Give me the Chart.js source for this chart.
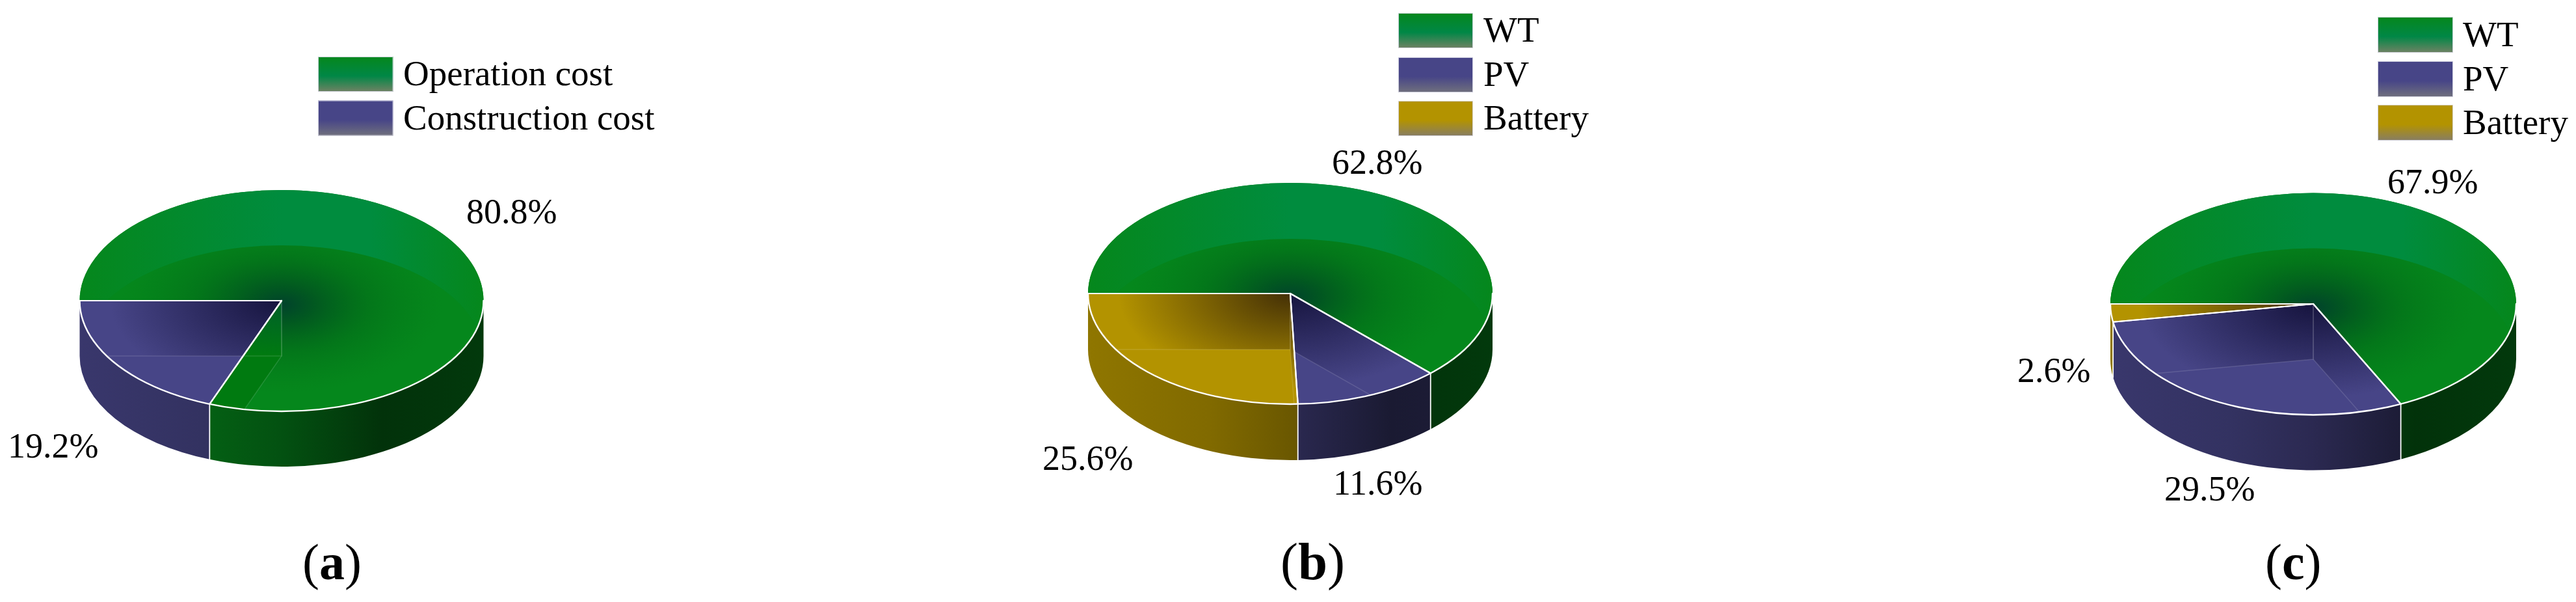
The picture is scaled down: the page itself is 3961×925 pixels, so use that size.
<!DOCTYPE html>
<html><head><meta charset="utf-8">
<style>html,body{margin:0;padding:0;background:#fff;overflow:hidden;width:3961px;height:925px}
canvas{position:absolute;top:0}</style>
<script src="https://cdn.jsdelivr.net/npm/chart.js@4"></script></head>
<body>
<canvas id="ca" width="1320" height="925" style="left:0"></canvas>
<canvas id="cb" width="1320" height="925" style="left:1320px"></canvas>
<canvas id="cc" width="1321" height="925" style="left:2640px"></canvas>
<script>
// ---- data ----
const categoriesA = ['Operation cost', 'Construction cost'];
const valuesA = [80.8, 19.2];
const categoriesB = ['WT', 'PV', 'Battery'];
const valuesB = [62.8, 11.6, 25.6];
const categoriesC = ['WT', 'PV', 'Battery'];
const valuesC = [67.9, 29.5, 2.6];
const captionLetters = ['a', 'b', 'c'];

// ---- styles ----
const GREEN = {base:[5,135,28], band:[0,140,62], apex:[0,95,42], rimW:[0,122,16], legendMid:[0,135,70], legendEnd:[112,130,100], floorShade:true};
const PURPLE = {base:[71,69,135], band:[71,69,135], apex:[22,20,62], rimW:[71,69,135], legendMid:[71,69,135], legendEnd:[112,112,125], floorShade:false};
const GOLD = {base:[179,147,0], band:[179,147,0], apex:[68,48,6], rimW:[179,147,0], legendMid:[179,147,0], legendEnd:[135,125,100], floorShade:false};
const rgb = (c, a=1) => `rgba(${c[0]},${c[1]},${c[2]},${a})`;
const mul = (c, k) => c.map(v => Math.round(v * k));
const WALL_STOPS = [[0,.80],[.3,.72],[.5,.60],[.75,.37],[1,.42]];
const SERIF = '"Liberation Serif", "Times New Roman", serif';
const FS = 55, PCT_FS = 54;

const panels = [
 {id:'ca', ox:0, labels:categoriesA, values:valuesA, styles:[GREEN,PURPLE], cx:433, cy:462, rx:310.5, ry:170, d:85,
  swX:489, swW:115.5, swH:54, swY:[87,154.5], txtX:620, txtDY:44,
  pct:[[717,343],[12,703]], cap:[465,890,78]},
 {id:'cb', ox:1320, labels:categoriesB, values:valuesB, styles:[GREEN,PURPLE,GOLD], cx:1984, cy:451, rx:311, ry:170, d:86,
  swX:2150, swW:115, swH:54, swY:[20,88,155], txtX:2281, txtDY:44,
  pct:[[2048,267],[2050,760],[1603,722]], cap:[1969,890,81]},
 {id:'cc', ox:2640, labels:categoriesC, values:valuesC, styles:[GREEN,PURPLE,GOLD], cx:3557, cy:467, rx:312, ry:170.5, d:85,
  swX:3656, swW:116, swH:55, swY:[26,94,161], txtX:3787, txtDY:45,
  pct:[[3671,297],[3328,769],[3102,587]], cap:[3483,890,78]}
];

const pie3d = {
 id:'pie3d',
 beforeDatasetsDraw(chart, args, o){
  const ctx = chart.ctx, a = chart.getDatasetMeta(0).data[0];
  ctx.save();
  ctx.translate(o.cx - o.ox, o.cy); ctx.scale(1, o.ry / a.outerRadius); ctx.translate(-a.x, -a.y);
 },
 afterDatasetsDraw(chart, args, o){
  const ctx = chart.ctx; ctx.restore();
  const arcs = chart.getDatasetMeta(0).data;
  const {cy, rx, ry, d, styles} = o, cx = o.cx - o.ox;
  const px = (ang, dy=0) => [cx + rx*Math.cos(ang), cy + ry*Math.sin(ang) + dy];
  const sector = (s, e, dy=0) => { ctx.beginPath(); ctx.moveTo(cx, cy+dy); ctx.ellipse(cx, cy+dy, rx, ry, 0, s, e); ctx.closePath(); };
  const radialFill = (y0, r, stops) => {
    ctx.save(); ctx.translate(cx, y0); ctx.scale(1, ry/rx);
    const g = ctx.createRadialGradient(0,0,0,0,0,r);
    stops.forEach(s => g.addColorStop(s[0], s[1]));
    ctx.fillStyle = g; ctx.fill(); ctx.restore();
  };
  arcs.forEach((a, i) => {
    const st = styles[i], s = a.startAngle, e = a.endAngle;
    // outer wall, front half only
    const ws = Math.max(s, 0), we = Math.min(e, Math.PI);
    if (we > ws) {
      ctx.beginPath();
      ctx.ellipse(cx, cy, rx, ry, 0, ws, we);
      ctx.ellipse(cx, cy+d, rx, ry, 0, we, ws, true);
      ctx.closePath();
      const g = ctx.createLinearGradient(cx-rx, 0, cx+rx, 0);
      WALL_STOPS.forEach(t => g.addColorStop(t[0], rgb(mul(st.base, t[1]))));
      ctx.fillStyle = g; ctx.fill();
    }
    // top face
    ctx.save();
    sector(s, e); ctx.clip();
    // back band
    const g = ctx.createLinearGradient(cx-rx, 0, cx+rx, 0);
    g.addColorStop(0, rgb(st.base)); g.addColorStop(.5, rgb(st.band)); g.addColorStop(.72, rgb(st.band)); g.addColorStop(1, rgb(st.base));
    ctx.fillStyle = g; ctx.fillRect(cx-rx-2, cy-ry-2, 2*rx+4, 2*ry+4);
    // floor
    sector(s, e, d); ctx.fillStyle = rgb(st.base); ctx.fill();
    if (st.floorShade) radialFill(cy+6, rx*0.8, [[0,'rgba(0,60,46,.92)'],[.2,'rgba(0,70,34,.72)'],[.55,'rgba(0,90,22,.35)'],[1,'rgba(0,110,20,0)']]);
    // inner radial walls
    [s, e].forEach(ang => {
      const p = px(ang);
      ctx.beginPath(); ctx.moveTo(cx, cy); ctx.lineTo(p[0], p[1]); ctx.lineTo(p[0], p[1]+d); ctx.lineTo(cx, cy+d); ctx.closePath();
      radialFill(cy, rx*(st.floorShade?0.5:0.85), [[0,rgb(st.apex)],[1,rgb(st.rimW)]]);
    });
    // faint seams
    ctx.strokeStyle = 'rgba(255,255,255,.13)'; ctx.lineWidth = 1.5;
    [s, e].forEach(ang => {
      const p = px(ang, d);
      ctx.beginPath(); ctx.moveTo(cx, cy); ctx.lineTo(cx, cy+d); ctx.lineTo(p[0], p[1]); ctx.stroke();
    });
    ctx.restore();
  });
  // white outlines
  ctx.strokeStyle = '#fff'; ctx.lineCap = 'round';
  ctx.lineWidth = 2.4;
  ctx.beginPath(); ctx.ellipse(cx, cy, rx, ry, 0, 0, Math.PI); ctx.stroke();
  arcs.forEach(a => {
    const p = px(a.endAngle), q = px(a.startAngle);
    ctx.lineWidth = 2.2;
    ctx.beginPath(); ctx.moveTo(cx, cy); ctx.lineTo(p[0], p[1]); ctx.stroke();
    ctx.beginPath(); ctx.moveTo(cx, cy); ctx.lineTo(q[0], q[1]); ctx.stroke();
    if (a.endAngle > 0.001 && a.endAngle < Math.PI - 0.001) {
      ctx.lineWidth = 1.8;
      ctx.beginPath(); ctx.moveTo(p[0], p[1]); ctx.lineTo(p[0], p[1]+d); ctx.stroke();
    }
  });
 },
 afterDraw(chart, args, o){
  const ctx = chart.ctx, X = x => x - o.ox;
  ctx.save();
  ctx.textBaseline = 'alphabetic'; ctx.textAlign = 'left'; ctx.fillStyle = '#000';
  // legend
  chart.data.labels.forEach((lab, i) => {
    const st = o.styles[i], y = o.swY[i], x = X(o.swX);
    const g = ctx.createLinearGradient(0, y, 0, y + o.swH);
    g.addColorStop(0, rgb(st.base)); g.addColorStop(.55, rgb(st.legendMid)); g.addColorStop(1, rgb(st.legendEnd));
    ctx.fillStyle = g; ctx.fillRect(x, y, o.swW, o.swH);
    ctx.strokeStyle = 'rgba(215,215,230,.9)'; ctx.lineWidth = 1; ctx.strokeRect(x+.5, y+.5, o.swW-1, o.swH-1);
    ctx.fillStyle = '#000'; ctx.font = `${FS}px ${SERIF}`;
    ctx.fillText(lab, X(o.txtX), y + o.txtDY);
  });
  // percentages
  ctx.font = `${PCT_FS}px ${SERIF}`;
  chart.data.datasets[0].data.forEach((v, i) => {
    ctx.fillText(v.toFixed(1) + '%', X(o.pct[i][0]), o.pct[i][1]);
  });
  // caption
  let cxp = X(o.cap[0]); const cy = o.cap[1], sz = o.cap[2];
  [['(', ''], [o.letter, 'bold '], [')', '']].forEach(([t, w]) => {
    ctx.font = `${w}${sz}px ${SERIF}`;
    ctx.fillText(t, cxp, cy); cxp += ctx.measureText(t).width;
  });
  ctx.restore();
 }
};

panels.forEach((p, k) => {
  const cv = document.getElementById(p.id), W = cv.width, lc = p.cx - p.ox;
  const diff = 2*lc - W;
  new Chart(cv, {
    type:'pie',
    data:{labels:p.labels, datasets:[{data:p.values, backgroundColor:p.styles.map(s => rgb(s.base)), borderWidth:0, clip:false}]},
    options:{
      responsive:false, animation:false, devicePixelRatio:1, rotation:-90, radius:p.rx,
      events:[],
      layout:{padding:{left:Math.max(diff,0), right:Math.max(-diff,0), top:0, bottom:0}},
      plugins:{legend:{display:false}, tooltip:{enabled:false}, title:{display:false},
        pie3d:{...p, letter:captionLetters[k]}}
    },
    plugins:[pie3d]
  });
});
</script>
</body></html>
